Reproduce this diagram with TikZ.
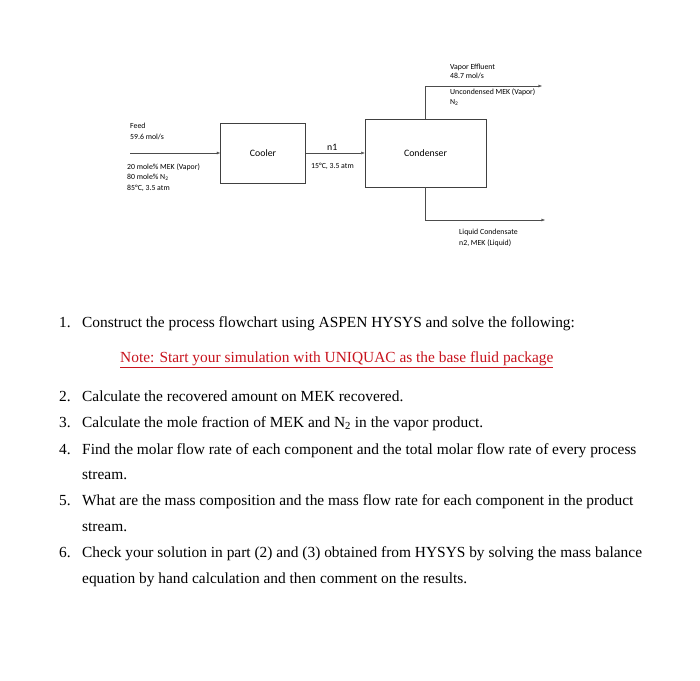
\documentclass[tikz,border=0pt]{standalone}
\usepackage{fontspec}
\setmainfont{Liberation Serif}
\newfontfamily\diagfont{Carlito}
\usetikzlibrary{arrows.meta,positioning}
\definecolor{notered}{RGB}{200,20,30}

\tikzset{
    unit/.style={draw=black!75, line width=0.5pt, minimum width=85pt, minimum height=60pt, inner sep=0pt, font=\diagfont\fontsize{9.8}{11}\selectfont},
    stream/.style={draw=black!70, line width=0.4pt, -{Latex[length=3.5pt,width=3pt]}},
    lbl/.style={anchor=west, inner sep=0pt, font=\diagfont\fontsize{7.8}{9}\selectfont},
    item/.style={anchor=base west, inner sep=0pt, font=\fontsize{15.4}{18}\selectfont},
}

\begin{document}
\begin{tikzpicture}[x=1pt, y=-1pt]
    \useasboundingbox[fill=white] (0,0) rectangle (700,680);

    % process units
    \node[unit] (cooler) at (263,153) {Cooler};
    \node[unit, minimum width=121pt, minimum height=68pt] (condenser) at (425.5,153) {Condenser};

    % stream ends
    \coordinate (feed) at (130,153);
    \coordinate (vapout) at (542,86);
    \coordinate (liqout) at (545,220);

    \draw[stream] (feed) -- (cooler);
    \draw[stream] (cooler) -- (condenser);
    \draw[stream] (condenser.north) |- (vapout);
    \draw[stream] (condenser.south) |- (liqout);

    % stream labels
    \node[lbl] (feedname) at (130,126) {Feed};
    \node[lbl] (feedrate) at (130,137) {59.6 mol/s};
    \node[lbl] (feedmek) at (127,167) {20 mole\% MEK (Vapor)};
    \node[lbl] (feedn) at (127,177) {80 mole\% N\textsubscript{2}};
    \node[lbl] (feedtp) at (127,188) {85°C, 3.5 atm};
    \node[lbl, font=\diagfont\fontsize{9.8}{11}\selectfont] (none) at (327,147) {n1};
    \node[lbl] (ntp) at (311,166) {15°C, 3.5 atm};
    \node[lbl] (vapname) at (450,67) {Vapor Effluent};
    \node[lbl] (vaprate) at (450,76) {48.7 mol/s};
    \node[lbl] (vapmek) at (450,92) {Uncondensed MEK (Vapor)};
    \node[lbl] (vapn) at (450,102) {N\textsubscript{2}};
    \node[lbl] (liqname) at (459,232) {Liquid Condensate};
    \node[lbl] (liqcomp) at (459,243) {n2, MEK (Liquid)};

    % questions
    \node[item] (q1n) at (59,327) {1.};
    \node[item] (q1) at (82,327) {Construct the process flowchart using ASPEN HYSYS and solve the following:};
    \node[item, text=notered] (note) at (120,362) {\underline{Note: Start your simulation with UNIQUAC as the base fluid package}};
    \node[item] (q2n) at (59,401) {2.};
    \node[item] (q2) at (82,401) {Calculate the recovered amount on MEK recovered.};
    \node[item] (q3n) at (59,427) {3.};
    \node[item] (q3) at (82,427) {Calculate the mole fraction of MEK and N\textsubscript{2} in the vapor product.};
    \node[item] (q4n) at (59,454) {4.};
    \node[item] (q4) at (82,454) {Find the molar flow rate of each component and the total molar flow rate of every process};
    \node[item] (q4b) at (82,479) {stream.};
    \node[item] (q5n) at (59,505) {5.};
    \node[item] (q5) at (82,505) {What are the mass composition and the mass flow rate for each component in the product};
    \node[item] (q5b) at (82,531) {stream.};
    \node[item] (q6n) at (59,557) {6.};
    \node[item] (q6) at (82,557) {Check your solution in part (2) and (3) obtained from HYSYS by solving the mass balance};
    \node[item] (q6b) at (82,583) {equation by hand calculation and then comment on the results.};
\end{tikzpicture}
\end{document}
